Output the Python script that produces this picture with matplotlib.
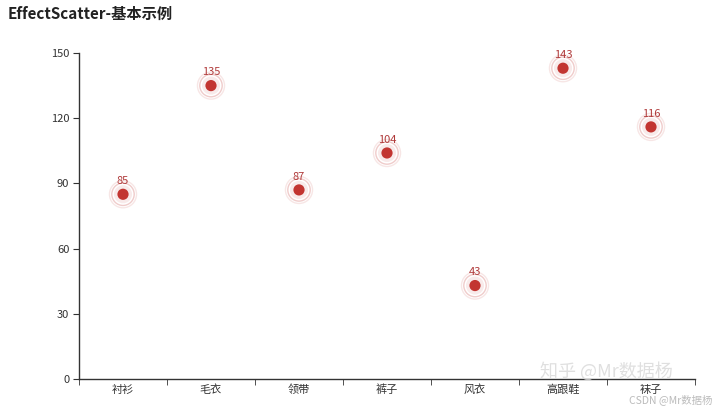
import matplotlib
matplotlib.use("Agg")
import matplotlib.pyplot as plt

plt.rcParams['font.family'] = ['Noto Sans CJK SC', 'DejaVu Sans']

categories = ["衬衫", "毛衣", "领带", "裤子", "风衣", "高跟鞋", "袜子"]
values = [85, 135, 87, 104, 43, 143, 116]
yticks = [0, 30, 60, 90, 120, 150]

color = "#c23531"

fig = plt.figure(figsize=(7.2, 4.08), dpi=100)
ax = fig.add_axes([79/720, 1 - 379/408, (695 - 79)/720, (379 - 53)/408])

x = list(range(len(categories)))
# ripple rings
ax.scatter(x, values, s=380, facecolor="none", edgecolor=color, alpha=0.12, linewidths=1.0, zorder=2)
ax.scatter(x, values, s=260, facecolor="none", edgecolor=color, alpha=0.25, linewidths=1.0, zorder=2)
ax.scatter(x, values, s=170, facecolor=color, edgecolor="none", alpha=0.10, zorder=2)
ax.scatter(x, values, s=65, color=color, zorder=3, edgecolors="none")

for xi, v in zip(x, values):
    ax.annotate(str(v), (xi, v), xytext=(0, 6), textcoords="offset points",
                ha="center", va="bottom", fontsize=8, color="#b03a3a")

ax.set_xlim(-0.5, len(categories) - 0.5)
ax.set_ylim(0, 150)
ax.set_yticks(yticks)
ax.set_yticklabels([str(t) for t in yticks], fontsize=8, color="#333333")
ax.set_xticks(x)
ax.set_xticklabels(categories, fontsize=8, color="#333333")
ax.set_xticks([i - 0.5 for i in range(len(categories) + 1)], minor=True)
ax.tick_params(axis="x", which="major", length=0, pad=4)
ax.tick_params(axis="x", which="minor", length=4, color="#333333")
ax.tick_params(axis="y", length=4, color="#333333", pad=3)

for s in ["top", "right"]:
    ax.spines[s].set_visible(False)
for s in ["left", "bottom"]:
    ax.spines[s].set_color("#333333")
    ax.spines[s].set_linewidth(1.0)

fig.text(8/720, 1 - 14/408, "EffectScatter-基本示例", fontsize=11, fontweight="bold",
         color="#222222", ha="left", va="center")

# watermark
fig.text(540/720, 1 - 371/408, "知乎 @Mr数据杨", fontsize=13, color="#d8d8d8",
         ha="left", va="center", alpha=0.8)
fig.text(712/720, 1 - 400/408, "CSDN @Mr数据杨", fontsize=7.5, color="#bbbbbb",
         ha="right", va="center")

fig.savefig("out.png", dpi=100)
